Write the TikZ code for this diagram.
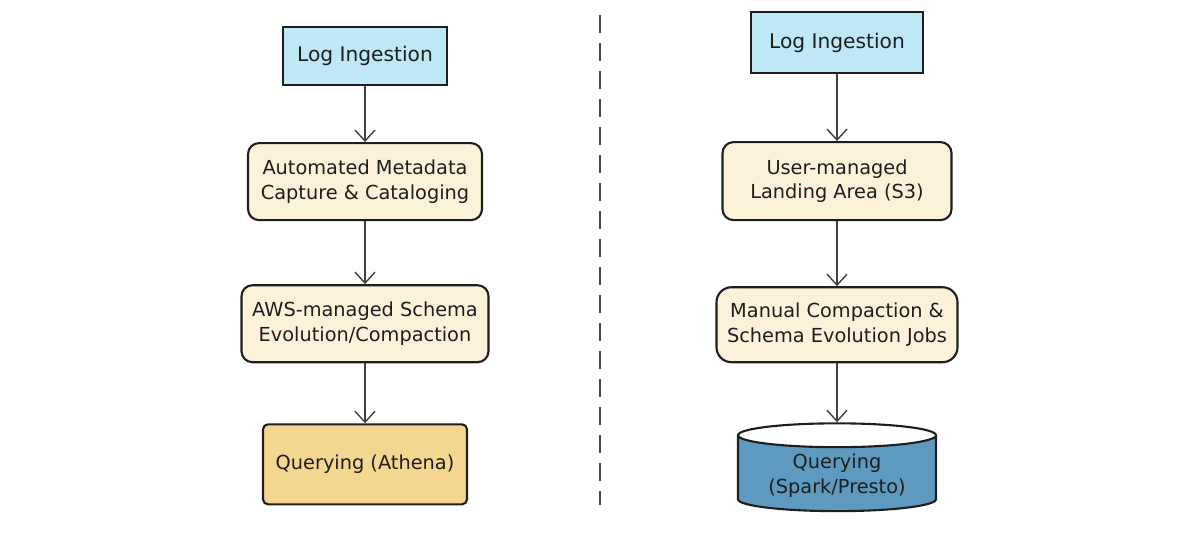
\documentclass[tikz,border=0pt]{standalone}
\usepackage{fontspec}
\setmainfont{DejaVu Sans}
\usetikzlibrary{positioning, arrows.meta, shapes.geometric}
\definecolor{logblue}{HTML}{BEE8F6}
\definecolor{cream}{HTML}{FCF2DA}
\definecolor{athena}{HTML}{F4D690}
\definecolor{sparkblue}{HTML}{5E9AC0}
\definecolor{ink}{HTML}{1E1E1E}

\begin{document}
\begin{tikzpicture}[
        node distance=1.2cm and 1.2cm,
        % ingestion box style
        src/.style={rectangle, draw=ink, line width=1.2pt, fill=logblue, align=center, font=\fontsize{11.5}{14}\selectfont, text=ink},
        % processing step style
        stage/.style={rectangle, draw=ink, line width=1.2pt, rounded corners=2.2mm, fill=cream, align=center, font=\fontsize{11}{14}\selectfont, text=ink},
        % query engine style
        query/.style={rectangle, draw=ink, line width=1.2pt, rounded corners=1mm, fill=athena, align=center, font=\fontsize{11}{14}\selectfont, text=ink},
        % database style
        store/.style={cylinder, shape border rotate=90, aspect=0.16, draw=ink, line width=1.2pt, cylinder uses custom fill, cylinder body fill=sparkblue, cylinder end fill=white, align=center, font=\fontsize{11}{14}\selectfont, text=ink},
        % arrow style
        arrow/.style={-{Straight Barb[length=2.2mm, width=4mm]}, ink!85, line width=0.8pt}
    ]
    \useasboundingbox (0,0) rectangle (24,-10.68);

    % left column
    \node[src, minimum width=3.28cm, minimum height=1.16cm] (log_l) at (7.30,-1.12) {Log Ingestion};
    \node[stage, minimum width=4.68cm, minimum height=1.54cm, below=1.12cm of log_l] (capture) {Automated Metadata\\Capture \& Cataloging};
    \node[stage, minimum width=4.94cm, minimum height=1.54cm, below=1.26cm of capture] (evolve_l) {AWS-managed Schema\\Evolution/Compaction};
    \node[query, minimum width=4.08cm, minimum height=1.6cm, below=1.2cm of evolve_l] (athena) {Querying (Athena)};

    % right column
    \node[src, minimum width=3.44cm, minimum height=1.22cm] (log_r) at (16.74,-0.85) {Log Ingestion};
    \node[stage, minimum width=4.58cm, minimum height=1.56cm, below=1.34cm of log_r] (landing) {User-managed\\Landing Area (S3)};
    \node[stage, rounded corners=3mm, minimum width=4.82cm, minimum height=1.5cm, below=1.3cm of landing] (jobs) {Manual Compaction \&\\Schema Evolution Jobs};
    \node[store, minimum width=3.96cm, minimum height=1.62cm, below=1.18cm of jobs] (spark) {Querying\\(Spark/Presto)};

    % arrows
    \draw[arrow] (log_l) -- (capture);
    \draw[arrow] (capture) -- (evolve_l);
    \draw[arrow] (evolve_l) -- (athena);
    \draw[arrow] (log_r) -- (landing);
    \draw[arrow] (landing) -- (jobs);
    \draw[arrow] (jobs) -- (spark);

    % separator
    \coordinate (sep_top) at (12.0,-0.3);
    \coordinate (sep_bot) at (12.0,-10.1);
    \draw[ink!80, line width=1.1pt, dash pattern=on 3.6mm off 2mm] (sep_top) -- (sep_bot);

\end{tikzpicture}
\end{document}
